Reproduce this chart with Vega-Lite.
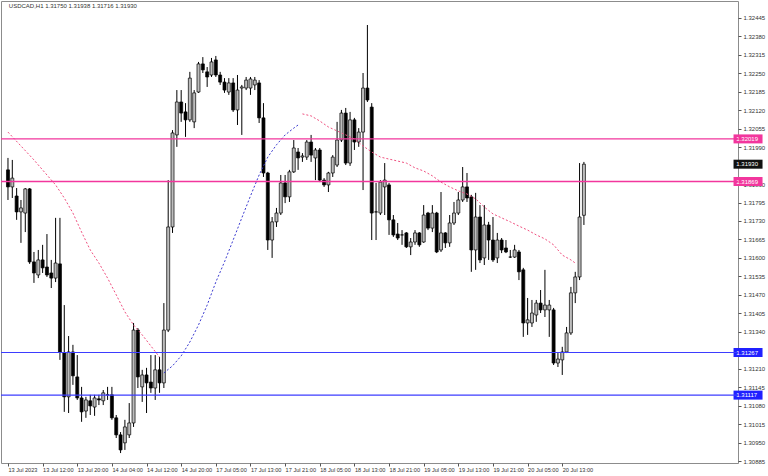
{
  "$schema": "https://vega.github.io/schema/vega-lite/v6.json",
  "width": 737,
  "height": 462,
  "autosize": {"type": "none"},
  "padding": {"left": 1, "top": 1, "right": 30, "bottom": 13},
  "background": "white",
  "config": {
    "view": {"stroke": "#8c8c8c", "strokeWidth": 1},
    "axis": {"grid": false, "domain": false, "labelFont": "Liberation Sans", "labelColor": "#333333", "tickColor": "#555555", "zindex": 0, "labelOverlap": false, "labelFlush": false, "labelBound": false}
  },
  "resolve": {"axis": {"x": "independent", "y": "independent"}},
  "datasets": {
    "candles": [
      {"i":0,"o":1.31910,"h":1.31952,"l":1.31804,"c":1.31850},
      {"i":1,"o":1.31850,"h":1.31945,"l":1.31811,"c":1.31881},
      {"i":2,"o":1.31818,"h":1.31846,"l":1.31734,"c":1.31762},
      {"i":3,"o":1.31762,"h":1.31804,"l":1.31653,"c":1.31776},
      {"i":4,"o":1.31758,"h":1.31846,"l":1.31691,"c":1.31843},
      {"i":5,"o":1.31843,"h":1.31846,"l":1.31579,"c":1.31586},
      {"i":6,"o":1.31586,"h":1.31621,"l":1.31512,"c":1.31547},
      {"i":7,"o":1.31540,"h":1.31628,"l":1.31529,"c":1.31593},
      {"i":8,"o":1.31593,"h":1.31646,"l":1.31547,"c":1.31565},
      {"i":9,"o":1.31568,"h":1.31684,"l":1.31533,"c":1.31540},
      {"i":10,"o":1.31547,"h":1.31593,"l":1.31494,"c":1.31529},
      {"i":11,"o":1.31529,"h":1.31741,"l":1.31515,"c":1.31582},
      {"i":12,"o":1.31579,"h":1.31741,"l":1.31241,"c":1.31269},
      {"i":13,"o":1.31265,"h":1.31434,"l":1.31058,"c":1.31111},
      {"i":14,"o":1.31111,"h":1.31325,"l":1.31054,"c":1.31269},
      {"i":15,"o":1.31269,"h":1.31294,"l":1.31153,"c":1.31185},
      {"i":16,"o":1.31181,"h":1.31258,"l":1.31100,"c":1.31107},
      {"i":17,"o":1.31107,"h":1.31146,"l":1.31023,"c":1.31058},
      {"i":18,"o":1.31061,"h":1.31111,"l":1.31037,"c":1.31100},
      {"i":19,"o":1.31097,"h":1.31118,"l":1.31047,"c":1.31079},
      {"i":20,"o":1.31075,"h":1.31118,"l":1.31044,"c":1.31107},
      {"i":21,"o":1.31104,"h":1.31118,"l":1.31082,"c":1.31100},
      {"i":22,"o":1.31097,"h":1.31135,"l":1.31082,"c":1.31125},
      {"i":23,"o":1.31118,"h":1.31146,"l":1.31100,"c":1.31118},
      {"i":24,"o":1.31118,"h":1.31146,"l":1.31030,"c":1.31037},
      {"i":25,"o":1.31037,"h":1.31047,"l":1.30966,"c":1.30977},
      {"i":26,"o":1.30977,"h":1.30987,"l":1.30913,"c":1.30924},
      {"i":27,"o":1.30949,"h":1.31030,"l":1.30924,"c":1.31005},
      {"i":28,"o":1.30977,"h":1.31089,"l":1.30966,"c":1.31019},
      {"i":29,"o":1.31019,"h":1.31371,"l":1.31005,"c":1.31346},
      {"i":30,"o":1.31346,"h":1.31353,"l":1.31142,"c":1.31181},
      {"i":31,"o":1.31146,"h":1.31206,"l":1.31093,"c":1.31188},
      {"i":32,"o":1.31188,"h":1.31213,"l":1.31054,"c":1.31160},
      {"i":33,"o":1.31163,"h":1.31258,"l":1.31125,"c":1.31142},
      {"i":34,"o":1.31142,"h":1.31258,"l":1.31100,"c":1.31206},
      {"i":35,"o":1.31206,"h":1.31251,"l":1.31125,"c":1.31160},
      {"i":36,"o":1.31160,"h":1.31441,"l":1.31142,"c":1.31346},
      {"i":37,"o":1.31346,"h":1.31874,"l":1.31339,"c":1.31709},
      {"i":38,"o":1.31709,"h":1.32050,"l":1.31688,"c":1.32040},
      {"i":39,"o":1.32033,"h":1.32191,"l":1.31991,"c":1.32149},
      {"i":40,"o":1.32149,"h":1.32191,"l":1.32079,"c":1.32110},
      {"i":41,"o":1.32114,"h":1.32145,"l":1.32026,"c":1.32086},
      {"i":42,"o":1.32086,"h":1.32255,"l":1.32079,"c":1.32233},
      {"i":43,"o":1.32079,"h":1.32191,"l":1.32057,"c":1.32181},
      {"i":44,"o":1.32184,"h":1.32290,"l":1.32181,"c":1.32283},
      {"i":45,"o":1.32283,"h":1.32307,"l":1.32251,"c":1.32262},
      {"i":46,"o":1.32255,"h":1.32272,"l":1.32202,"c":1.32237},
      {"i":47,"o":1.32244,"h":1.32304,"l":1.32237,"c":1.32290},
      {"i":48,"o":1.32297,"h":1.32311,"l":1.32237,"c":1.32244},
      {"i":49,"o":1.32244,"h":1.32255,"l":1.32209,"c":1.32219},
      {"i":50,"o":1.32219,"h":1.32233,"l":1.32181,"c":1.32191},
      {"i":51,"o":1.32184,"h":1.32233,"l":1.32174,"c":1.32216},
      {"i":52,"o":1.32216,"h":1.32233,"l":1.32114,"c":1.32121},
      {"i":53,"o":1.32121,"h":1.32244,"l":1.32068,"c":1.32191},
      {"i":54,"o":1.32198,"h":1.32209,"l":1.32033,"c":1.32202},
      {"i":55,"o":1.32198,"h":1.32237,"l":1.32191,"c":1.32226},
      {"i":56,"o":1.32198,"h":1.32237,"l":1.32174,"c":1.32230},
      {"i":57,"o":1.32209,"h":1.32237,"l":1.32191,"c":1.32226},
      {"i":58,"o":1.32216,"h":1.32226,"l":1.32075,"c":1.32093},
      {"i":59,"o":1.32093,"h":1.32145,"l":1.31885,"c":1.31899},
      {"i":60,"o":1.31899,"h":1.31903,"l":1.31628,"c":1.31663},
      {"i":61,"o":1.31663,"h":1.31744,"l":1.31600,"c":1.31727},
      {"i":62,"o":1.31727,"h":1.31776,"l":1.31709,"c":1.31758},
      {"i":63,"o":1.31758,"h":1.31892,"l":1.31751,"c":1.31864},
      {"i":64,"o":1.31864,"h":1.31892,"l":1.31793,"c":1.31815},
      {"i":65,"o":1.31815,"h":1.31910,"l":1.31797,"c":1.31903},
      {"i":66,"o":1.31903,"h":1.32015,"l":1.31899,"c":1.31987},
      {"i":67,"o":1.31973,"h":1.31987,"l":1.31910,"c":1.31952},
      {"i":68,"o":1.31955,"h":1.31969,"l":1.31938,"c":1.31959},
      {"i":69,"o":1.31955,"h":1.32015,"l":1.31945,"c":1.32008},
      {"i":70,"o":1.32008,"h":1.32033,"l":1.31938,"c":1.31962},
      {"i":71,"o":1.31952,"h":1.31987,"l":1.31874,"c":1.31980},
      {"i":72,"o":1.31980,"h":1.31987,"l":1.31867,"c":1.31874},
      {"i":73,"o":1.31874,"h":1.31881,"l":1.31850,"c":1.31857},
      {"i":74,"o":1.31857,"h":1.31903,"l":1.31832,"c":1.31899},
      {"i":75,"o":1.31899,"h":1.31962,"l":1.31885,"c":1.31955},
      {"i":76,"o":1.31927,"h":1.32079,"l":1.31920,"c":1.32015},
      {"i":77,"o":1.32015,"h":1.32121,"l":1.32008,"c":1.32110},
      {"i":78,"o":1.32110,"h":1.32128,"l":1.31927,"c":1.31934},
      {"i":79,"o":1.31934,"h":1.32114,"l":1.31924,"c":1.32086},
      {"i":80,"o":1.32086,"h":1.32093,"l":1.31980,"c":1.32008},
      {"i":81,"o":1.32008,"h":1.32057,"l":1.31991,"c":1.32043},
      {"i":82,"o":1.32043,"h":1.32251,"l":1.31839,"c":1.32198},
      {"i":83,"o":1.32198,"h":1.32420,"l":1.32149,"c":1.32156},
      {"i":84,"o":1.32131,"h":1.32145,"l":1.31663,"c":1.31758},
      {"i":85,"o":1.31762,"h":1.31864,"l":1.31663,"c":1.31762},
      {"i":86,"o":1.31758,"h":1.31874,"l":1.31751,"c":1.31867},
      {"i":87,"o":1.31850,"h":1.31934,"l":1.31751,"c":1.31874},
      {"i":88,"o":1.31857,"h":1.31864,"l":1.31681,"c":1.31734},
      {"i":89,"o":1.31734,"h":1.31751,"l":1.31674,"c":1.31681},
      {"i":90,"o":1.31684,"h":1.31723,"l":1.31663,"c":1.31670},
      {"i":91,"o":1.31681,"h":1.31698,"l":1.31646,"c":1.31681},
      {"i":92,"o":1.31688,"h":1.31691,"l":1.31635,"c":1.31639},
      {"i":93,"o":1.31639,"h":1.31670,"l":1.31610,"c":1.31656},
      {"i":94,"o":1.31656,"h":1.31698,"l":1.31646,"c":1.31688},
      {"i":95,"o":1.31688,"h":1.31691,"l":1.31639,"c":1.31646},
      {"i":96,"o":1.31656,"h":1.31786,"l":1.31653,"c":1.31751},
      {"i":97,"o":1.31758,"h":1.31762,"l":1.31698,"c":1.31705},
      {"i":98,"o":1.31705,"h":1.31786,"l":1.31691,"c":1.31758},
      {"i":99,"o":1.31758,"h":1.31762,"l":1.31617,"c":1.31621},
      {"i":100,"o":1.31628,"h":1.31832,"l":1.31621,"c":1.31688},
      {"i":101,"o":1.31688,"h":1.31691,"l":1.31635,"c":1.31653},
      {"i":102,"o":1.31653,"h":1.31751,"l":1.31639,"c":1.31723},
      {"i":103,"o":1.31723,"h":1.31797,"l":1.31716,"c":1.31758},
      {"i":104,"o":1.31758,"h":1.31832,"l":1.31751,"c":1.31804},
      {"i":105,"o":1.31804,"h":1.31920,"l":1.31797,"c":1.31850},
      {"i":106,"o":1.31850,"h":1.31899,"l":1.31797,"c":1.31811},
      {"i":107,"o":1.31815,"h":1.31822,"l":1.31551,"c":1.31628},
      {"i":108,"o":1.31628,"h":1.31829,"l":1.31558,"c":1.31744},
      {"i":109,"o":1.31744,"h":1.31786,"l":1.31582,"c":1.31593},
      {"i":110,"o":1.31600,"h":1.31786,"l":1.31575,"c":1.31716},
      {"i":111,"o":1.31716,"h":1.31727,"l":1.31593,"c":1.31663},
      {"i":112,"o":1.31663,"h":1.31744,"l":1.31586,"c":1.31593},
      {"i":113,"o":1.31600,"h":1.31688,"l":1.31582,"c":1.31663},
      {"i":114,"o":1.31663,"h":1.31670,"l":1.31617,"c":1.31628},
      {"i":115,"o":1.31635,"h":1.31663,"l":1.31617,"c":1.31621},
      {"i":116,"o":1.31603,"h":1.31628,"l":1.31600,"c":1.31603},
      {"i":117,"o":1.31603,"h":1.31646,"l":1.31600,"c":1.31628},
      {"i":118,"o":1.31621,"h":1.31628,"l":1.31522,"c":1.31551},
      {"i":119,"o":1.31558,"h":1.31565,"l":1.31322,"c":1.31371},
      {"i":120,"o":1.31371,"h":1.31459,"l":1.31329,"c":1.31382},
      {"i":121,"o":1.31371,"h":1.31452,"l":1.31357,"c":1.31406},
      {"i":122,"o":1.31399,"h":1.31452,"l":1.31375,"c":1.31441},
      {"i":123,"o":1.31441,"h":1.31487,"l":1.31406,"c":1.31417},
      {"i":124,"o":1.31417,"h":1.31558,"l":1.31392,"c":1.31434},
      {"i":125,"o":1.31417,"h":1.31452,"l":1.31322,"c":1.31434},
      {"i":126,"o":1.31417,"h":1.31424,"l":1.31223,"c":1.31230},
      {"i":127,"o":1.31230,"h":1.31265,"l":1.31216,"c":1.31244},
      {"i":128,"o":1.31241,"h":1.31287,"l":1.31188,"c":1.31269},
      {"i":129,"o":1.31269,"h":1.31357,"l":1.31265,"c":1.31336},
      {"i":130,"o":1.31336,"h":1.31498,"l":1.31329,"c":1.31477},
      {"i":131,"o":1.31477,"h":1.31551,"l":1.31441,"c":1.31533},
      {"i":132,"o":1.31533,"h":1.31934,"l":1.31522,"c":1.31744},
      {"i":133,"o":1.31750,"h":1.31938,"l":1.31716,"c":1.31930}
    ],
    "ma": [
      {"i":0,"v":1.32043,"seg":"p1"},{"i":3,"v":1.31994,"seg":"p1"},{"i":6,"v":1.31945,"seg":"p1"},{"i":9,"v":1.31892,"seg":"p1"},
      {"i":11,"v":1.31857,"seg":"p1"},{"i":13,"v":1.31811,"seg":"p1"},{"i":15,"v":1.31758,"seg":"p1"},{"i":17,"v":1.31691,"seg":"p1"},
      {"i":19,"v":1.31628,"seg":"p1"},{"i":21,"v":1.31582,"seg":"p1"},{"i":23,"v":1.31529,"seg":"p1"},{"i":25,"v":1.31470,"seg":"p1"},
      {"i":27,"v":1.31410,"seg":"p1"},{"i":29,"v":1.31364,"seg":"p1"},{"i":31,"v":1.31329,"seg":"p1"},{"i":33,"v":1.31290,"seg":"p1"},
      {"i":35,"v":1.31251,"seg":"p1"},
      {"i":36,"v":1.31195,"seg":"b"},{"i":38,"v":1.31220,"seg":"b"},{"i":40,"v":1.31255,"seg":"b"},{"i":42,"v":1.31304,"seg":"b"},
      {"i":44,"v":1.31364,"seg":"b"},{"i":46,"v":1.31434,"seg":"b"},{"i":48,"v":1.31515,"seg":"b"},{"i":50,"v":1.31586,"seg":"b"},
      {"i":52,"v":1.31663,"seg":"b"},{"i":54,"v":1.31741,"seg":"b"},{"i":56,"v":1.31818,"seg":"b"},{"i":58,"v":1.31892,"seg":"b"},
      {"i":60,"v":1.31955,"seg":"b"},{"i":62,"v":1.31998,"seg":"b"},{"i":64,"v":1.32033,"seg":"b"},{"i":66,"v":1.32057,"seg":"b"},
      {"i":67,"v":1.32068,"seg":"b"},
      {"i":68,"v":1.32107,"seg":"p2"},{"i":70,"v":1.32100,"seg":"p2"},{"i":72,"v":1.32082,"seg":"p2"},{"i":74,"v":1.32061,"seg":"p2"},
      {"i":76,"v":1.32047,"seg":"p2"},{"i":78,"v":1.32033,"seg":"p2"},{"i":80,"v":1.32019,"seg":"p2"},{"i":82,"v":1.31994,"seg":"p2"},
      {"i":84,"v":1.31973,"seg":"p2"},{"i":86,"v":1.31955,"seg":"p2"},{"i":88,"v":1.31948,"seg":"p2"},{"i":90,"v":1.31941,"seg":"p2"},
      {"i":92,"v":1.31934,"seg":"p2"},{"i":94,"v":1.31917,"seg":"p2"},{"i":96,"v":1.31906,"seg":"p2"},{"i":98,"v":1.31889,"seg":"p2"},
      {"i":100,"v":1.31867,"seg":"p2"},{"i":102,"v":1.31850,"seg":"p2"},{"i":104,"v":1.31836,"seg":"p2"},{"i":106,"v":1.31825,"seg":"p2"},
      {"i":108,"v":1.31808,"seg":"p2"},{"i":110,"v":1.31779,"seg":"p2"},{"i":112,"v":1.31755,"seg":"p2"},{"i":114,"v":1.31741,"seg":"p2"},
      {"i":116,"v":1.31727,"seg":"p2"},{"i":118,"v":1.31712,"seg":"p2"},{"i":120,"v":1.31698,"seg":"p2"},{"i":122,"v":1.31681,"seg":"p2"},
      {"i":124,"v":1.31667,"seg":"p2"},{"i":126,"v":1.31646,"seg":"p2"},{"i":128,"v":1.31610,"seg":"p2"},{"i":130,"v":1.31593,"seg":"p2"},
      {"i":131,"v":1.31582,"seg":"p2"}
    ],
    "levels": [
      {"p":1.32019,"kind":"res"},
      {"p":1.31869,"kind":"res"},
      {"p":1.31267,"kind":"sup"},
      {"p":1.31117,"kind":"sup"},
      {"p":1.31930,"kind":"cur"}
    ]
  },
  "layer": [
    {
      "data": {"name": "candles"},
      "mark": {"type": "rule", "color": "#000000", "strokeWidth": 1},
      "encoding": {
        "x": {
          "field": "i", "type": "quantitative",
          "scale": {"domain": [-0.456, 167.43], "nice": false, "zero": false},
          "axis": {
            "values": [0,8,16,24,32,40,48,56,64,72,80,88,96,104,112,120,128],
            "labelExpr": "['13 Jul 2023','13 Jul 12:00','13 Jul 20:00','14 Jul 04:00','14 Jul 12:00','14 Jul 20:00','17 Jul 05:00','17 Jul 13:00','17 Jul 21:00','18 Jul 05:00','18 Jul 13:00','18 Jul 21:00','19 Jul 05:00','19 Jul 13:00','19 Jul 21:00','20 Jul 05:00','20 Jul 13:00'][round(datum.value/8)]",
            "labelAlign": "left", "labelOverlap": false, "labelFontSize": 5.6, "tickSize": 3, "labelPadding": 1, "title": null
          }
        },
        "y": {
          "field": "l", "type": "quantitative",
          "scale": {"domain": [1.30878, 1.325045], "nice": false, "zero": false},
          "axis": {
            "orient": "right",
            "values": [1.30885,1.30950,1.31015,1.31080,1.31145,1.31210,1.31340,1.31405,1.31470,1.31535,1.31600,1.31665,1.31730,1.31795,1.31860,1.31990,1.32055,1.32120,1.32185,1.32250,1.32315,1.32380,1.32445],
            "format": ".5f", "labelOverlap": false, "labelFontSize": 6, "tickSize": 3, "labelPadding": 2, "title": null
          }
        },
        "y2": {"field": "h"}
      }
    },
    {
      "data": {"name": "candles"},
      "mark": {"type": "bar", "width": 3, "stroke": "#000000", "strokeWidth": 0.7},
      "encoding": {
        "x": {"field": "i", "type": "quantitative", "axis": null},
        "y": {"field": "o", "type": "quantitative", "axis": null},
        "y2": {"field": "c"},
        "fill": {"condition": {"test": "datum.c < datum.o", "value": "#000000"}, "value": "#bdbdbd"}
      }
    },
    {
      "data": {"name": "ma"},
      "mark": {"type": "line", "strokeWidth": 1, "strokeDash": [2, 2]},
      "encoding": {
        "x": {"field": "i", "type": "quantitative", "axis": null},
        "y": {"field": "v", "type": "quantitative", "axis": null},
        "detail": {"field": "seg", "type": "nominal"},
        "stroke": {"condition": {"test": "datum.seg == 'b'", "value": "#3a3ad0"}, "value": "#f0507f"}
      }
    },
    {
      "data": {"name": "levels"},
      "mark": {"type": "tick", "orient": "horizontal", "size": 29, "thickness": 9, "opacity": 1},
      "encoding": {
        "x": {"datum": 170.9, "axis": null},
        "y": {"field": "p", "type": "quantitative", "axis": null},
        "fill": {"condition": [{"test": "datum.kind == 'sup'", "value": "#2020ff"}, {"test": "datum.kind == 'cur'", "value": "#111111"}], "value": "#f2369d"}
      }
    },
    {
      "data": {"name": "levels"},
      "mark": {"type": "text", "align": "left", "baseline": "middle", "color": "#ffffff", "fontSize": 6, "font": "Liberation Sans"},
      "encoding": {
        "x": {"datum": 168.2, "axis": null},
        "y": {"field": "p", "type": "quantitative", "axis": null},
        "text": {"field": "p", "type": "quantitative", "format": ".5f"}
      }
    },
    {
      "data": {"values": [{"label": "USDCAD,H1  1.31750 1.31938 1.31716 1.31930"}]},
      "mark": {"type": "text", "align": "left", "baseline": "middle", "color": "#333333", "fontSize": 6, "font": "Liberation Sans"},
      "encoding": {
        "x": {"datum": 0.2, "axis": null},
        "y": {"datum": 1.32487, "axis": null},
        "text": {"field": "label"}
      }
    },
    {
      "data": {"name": "levels"},
      "transform": [{"filter": "datum.kind == 'sup'"}],
      "mark": {"type": "rule", "strokeWidth": 1.2, "color": "#3d3dff"},
      "encoding": {
        "y": {"field": "p", "type": "quantitative", "axis": null}
      }
    },
    {
      "data": {"name": "levels"},
      "transform": [{"filter": "datum.kind == 'res'"}],
      "mark": {"type": "rule", "strokeWidth": 1.4, "color": "#f2369d"},
      "encoding": {
        "y": {"field": "p", "type": "quantitative", "axis": null}
      }
    }
  ]
}
